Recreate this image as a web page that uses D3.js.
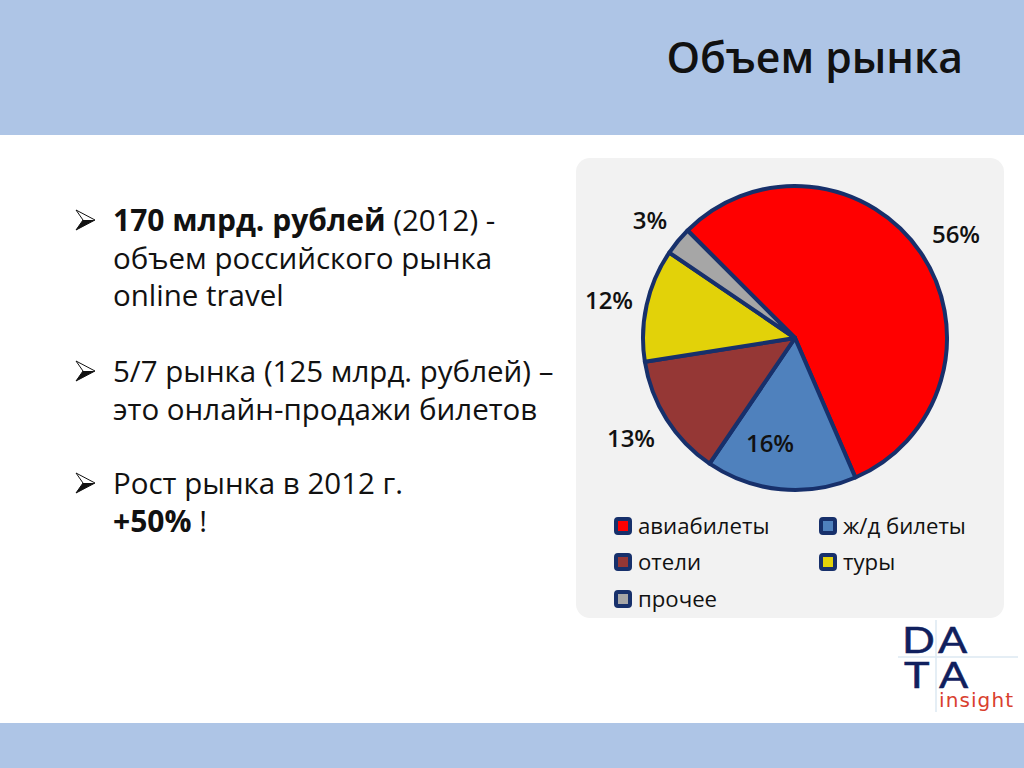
<!DOCTYPE html>
<html><head><meta charset="utf-8">
<script src="https://cdnjs.cloudflare.com/ajax/libs/d3/7.8.5/d3.min.js"></script>
<style>html,body{margin:0;padding:0;background:#fff;overflow:hidden}svg{display:block}text{font-family:"Open Sans",sans-serif;fill:#111}</style>
</head><body><svg id="c" width="1024" height="768"></svg>
<script>
const categories=["авиабилеты","ж/д билеты","отели","туры","прочее"];
const values=[56,16,13,12,3];
const colors=["#ff0000","#4f81bd","#953735","#e2d209","#a6a6a6"];
const labels=["56%","16%","13%","12%","3%"];
const labelPos=[[956,234],[770,443],[631,438],[609,300],[650,220]];
const legendPos=[[623,526],[828,526],[623,562],[828,562],[623,599]];
const title="Объем рынка";
const bullets=[
 [[[{t:"170 млрд. рублей",b:1},{t:" (2012) -"}]],[[{t:"объем российского рынка"}]],[[{t:"online travel"}]]],
 [[[{t:"5/7 рынка (125 млрд. рублей) –"}]],[[{t:"это онлайн-продажи билетов"}]]],
 [[[{t:"Рост рынка в 2012 г."}]],[[{t:"+50%",b:1},{t:" !"}]]]
];
const bulletY=[220,371,483];
const lineStep=37.5;

const svg=d3.select("#c");
const navy="#17306b";
svg.append("rect").attr("width",1024).attr("height",135).attr("fill","#aec5e6");
svg.append("rect").attr("y",723).attr("width",1024).attr("height",45).attr("fill","#aec5e6");
svg.append("text").attr("x",963).attr("y",73).attr("text-anchor","end").attr("font-size",42.7).attr("font-weight",600).text(title);

bullets.forEach((lines,i)=>{
  const y0=bulletY[i];
  svg.append("path").attr("d",`M76 ${y0-10} L95 ${y0} L76 ${y0+10} L83 ${y0} Z`).attr("fill","#fff").attr("stroke","#111").attr("stroke-width",1).attr("stroke-linejoin","round");
  svg.append("path").attr("d",`M95 ${y0} L76 ${y0+10} L83 ${y0} Z`).attr("fill","#111");
  lines.forEach((ln,j)=>{
    const t=svg.append("text").attr("x",113).attr("y",y0+11+j*lineStep).attr("font-size",29.5);
    ln[0].forEach(s=>t.append("tspan").attr("font-weight",s.b?700:400).attr("font-size",s.b?30:null).text(s.t));
  });
});

svg.append("rect").attr("x",576).attr("y",158).attr("width",428).attr("height",460).attr("rx",14).attr("fill","#f2f2f2");
const cx=795,cy=338,r=152;
const pie=d3.pie().sort(null).startAngle(-45*Math.PI/180).endAngle(315*Math.PI/180);
const arc=d3.arc().innerRadius(0).outerRadius(r);
svg.append("g").attr("transform",`translate(${cx},${cy})`).selectAll("path").data(pie(values)).join("path")
  .attr("d",arc).attr("fill",(d,i)=>colors[i]).attr("stroke",navy).attr("stroke-width",4).attr("stroke-linejoin","round");
labels.forEach((l,i)=>svg.append("text").attr("x",labelPos[i][0]).attr("y",labelPos[i][1]+8.5).attr("text-anchor","middle").attr("font-size",24).attr("font-weight",600).text(l));
categories.forEach((c,i)=>{
  const [x,y]=legendPos[i];
  svg.append("rect").attr("x",x-7).attr("y",y-7).attr("width",14).attr("height",14).attr("rx",2).attr("fill",colors[i]).attr("stroke",navy).attr("stroke-width",4);
  svg.append("text").attr("x",x+15).attr("y",y+8).attr("font-size",22.2).text(c);
});

const logo=svg.append("g");
logo.append("line").attr("x1",936).attr("x2",936).attr("y1",620).attr("y2",712).attr("stroke","#dce8f2").attr("stroke-width",1.5);
logo.append("line").attr("x1",898).attr("x2",1018).attr("y1",657).attr("y2",657).attr("stroke","#dce8f2").attr("stroke-width",1.5);
[["D",902,653],["A",938,653],["T",904,688],["A",939,688]].forEach(d=>logo.append("text").attr("transform",`translate(${d[1]},${d[2]}) scale(1.2,1)`).style("font-family","Lato").attr("font-size",36).style("fill","#10205e").style("stroke","#10205e").style("stroke-width",.5).text(d[0]));
logo.append("text").attr("x",939).attr("y",707).attr("font-size",20).style("font-family","'DejaVu Sans'").style("fill","#d9402e").attr("textLength",74).text("insight");
</script></body></html>
